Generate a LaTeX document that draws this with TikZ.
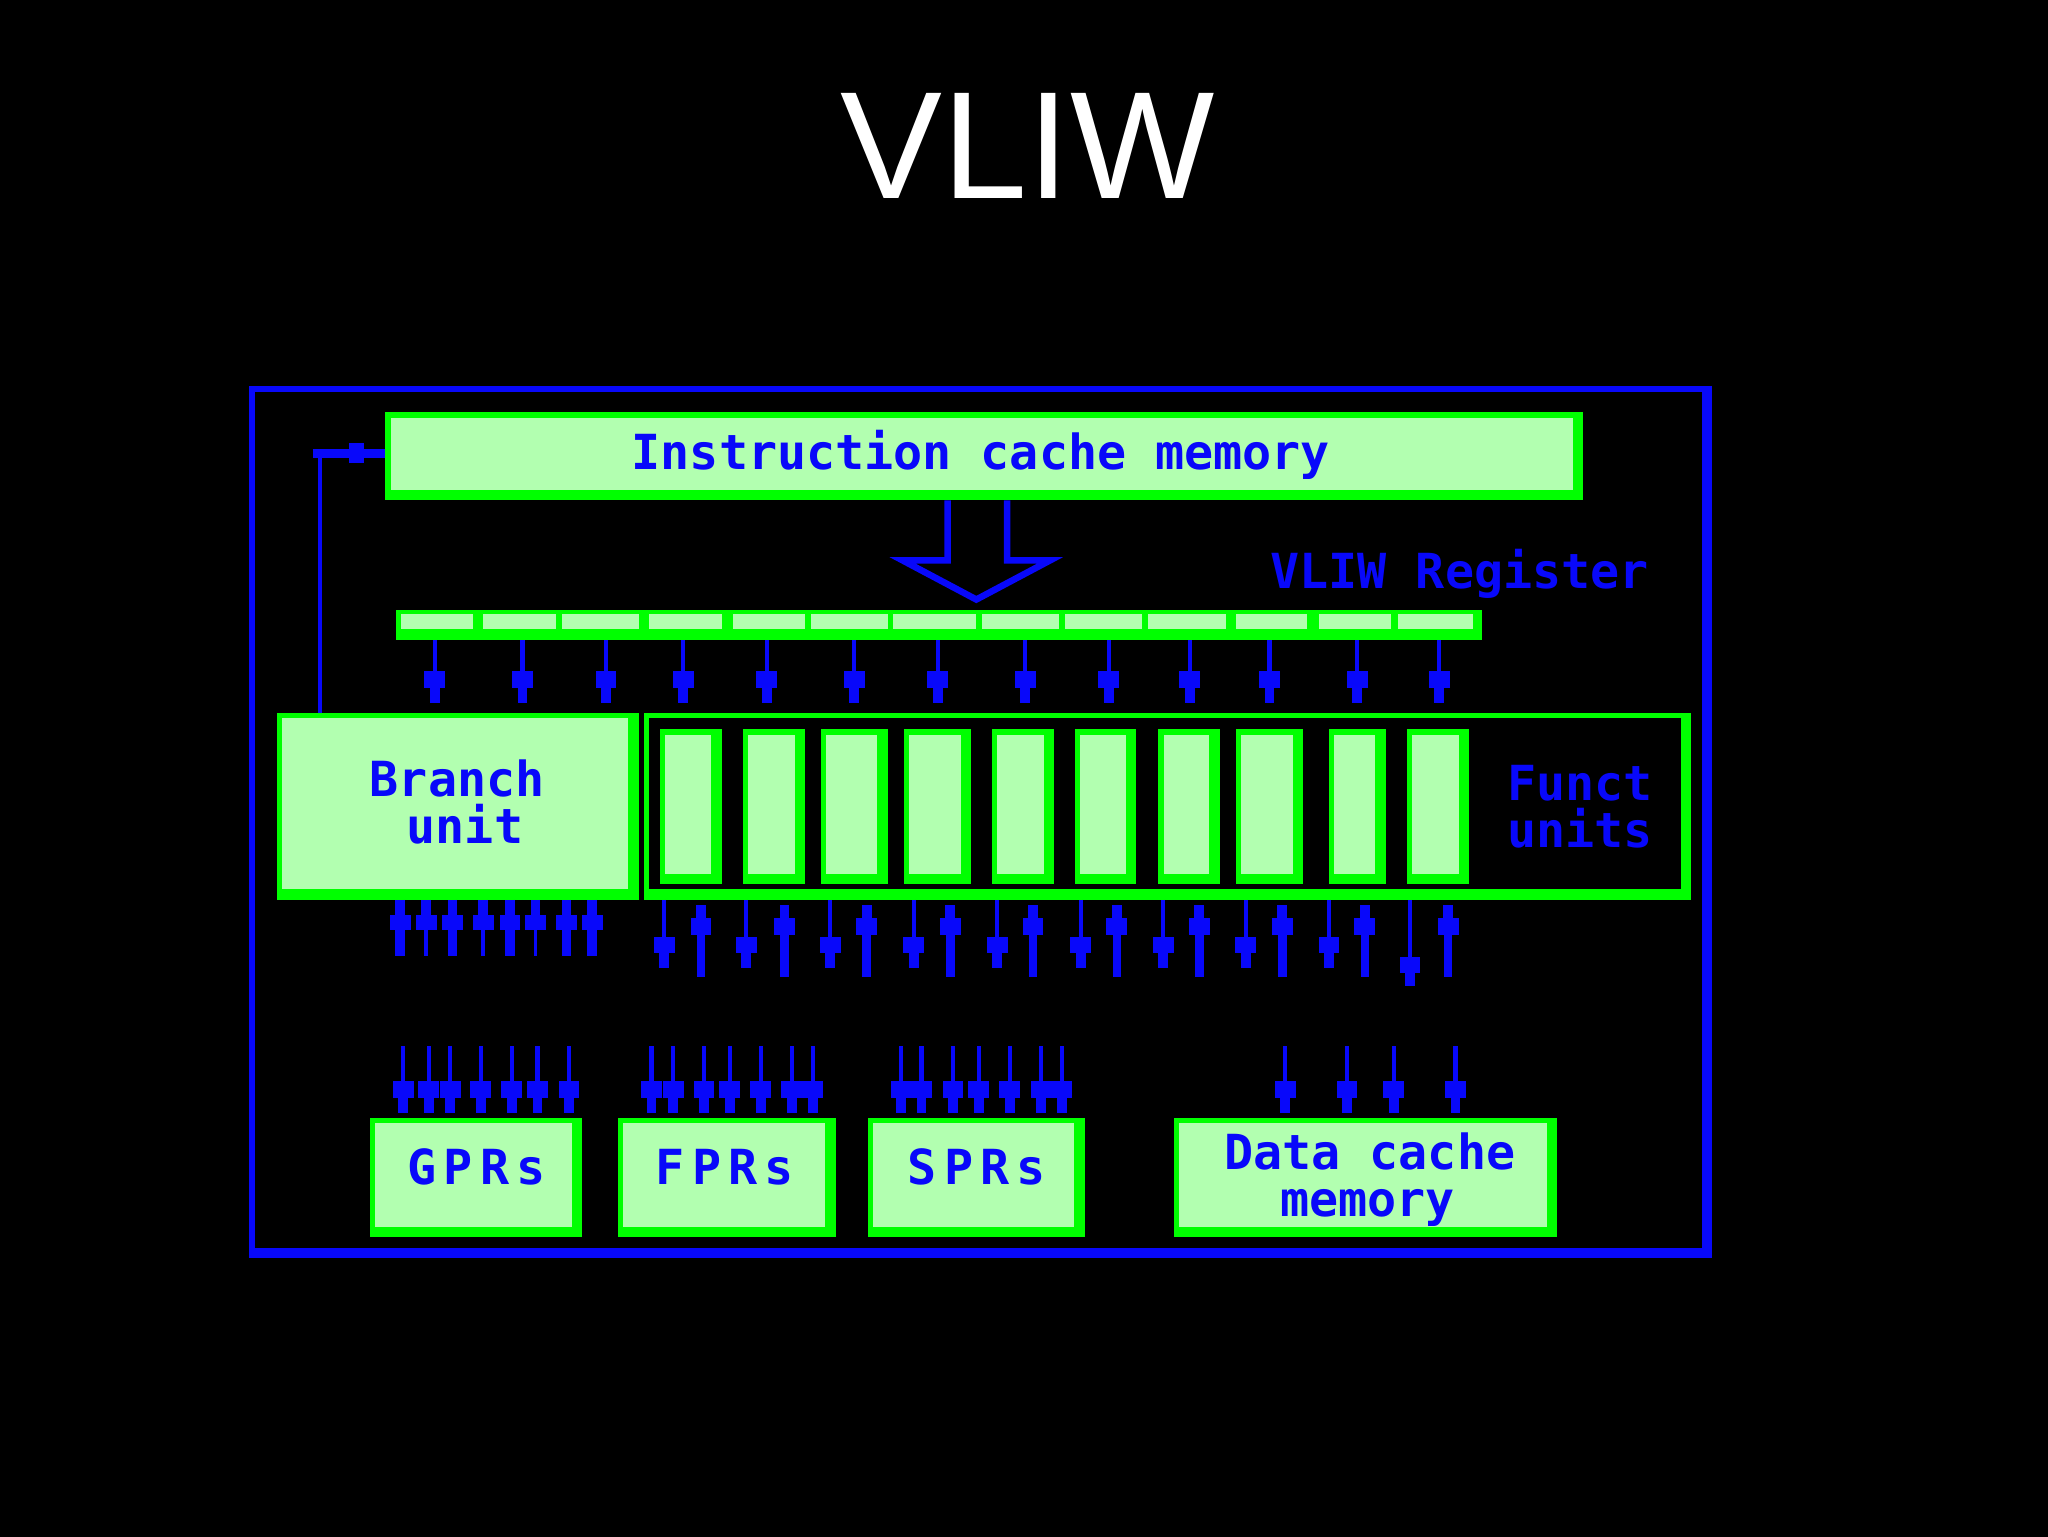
\documentclass[tikz,border=0pt]{standalone}
\usepackage{fontspec}
\newfontfamily\pix{DejaVu Sans Mono}
\newfontfamily\pixw{DejaVu Sans Mono}[LetterSpace=15]
\newfontfamily\titlefont{Liberation Sans}
\definecolor{bl}{RGB}{8,8,250}
\definecolor{gr}{RGB}{0,255,0}
\definecolor{lg}{RGB}{178,255,176}
\tikzset{
  boxnode/.style={fill=gr, inner sep=0pt, outer sep=0pt, anchor=north west, draw=none},
  txt/.style={text=bl, font=\pix\bfseries\fontsize{37}{40}\selectfont, inner sep=0pt, anchor=base},
  txtw/.style={text=bl, font=\pixw\bfseries\fontsize{37}{40}\selectfont, inner sep=0pt, anchor=base},
  thinw/.style={draw=bl, line width=3.2pt},
  thickw/.style={draw=bl, line width=7.5pt},
  plugfill/.style={fill=bl}
}
\newcommand\gbox[5]{%
  \node[boxnode, minimum width={(#4)-(#2)}, minimum height={(#5)-(#3)}] (#1) at (#2,#3) {};
  \fill[lg] ([shift={(4,4)}]#1.north west) rectangle ([shift={(-8,-8)}]#1.south east);}
\begin{document}
\begin{tikzpicture}[x=1pt,y=-1pt]
\useasboundingbox (0,0) rectangle (1568,1176);
\fill[black] (-10,-10) rectangle (1578,1186);

% title
\node[font=\titlefont\fontsize{117}{117}\selectfont, text=white, anchor=base, inner sep=0pt] (title) at (786.7,151.8) {VLIW};

% outer frame
\node[fill=bl, inner sep=0pt, outer sep=0pt, anchor=north west, minimum width=1120, minimum height=668] (frame) at (191,295.5) {};
\fill[black] ([shift={(4.5,4.5)}]frame.north west) rectangle ([shift={(-8,-8.4)}]frame.south east);

% instruction cache
\gbox{icache}{295}{315.7}{1212}{383}
\node[txt] (icachetxt) at (751,359.3) {Instruction cache memory};

% VLIW register
\node[boxnode, minimum width=832, minimum height=23.3] (reg) at (303,466.7) {};
\foreach \a/\b in {307/362,370/426,430/489,497/553,561/616,621/680,684/747,752/811,815/874,879/939,946/1001,1010/1065,1070/1128}
  \fill[lg] (\a,470) rectangle (\b,481.7);
\node[txt] (regtxt) at (1117.5,450.4) {VLIW Register};

% big arrow from instruction cache to register
\draw[bl, line width=5pt, line join=miter] (725.5,0 |- icache.south) -- (725.5,429) -- (691,429) -- (747.5,459) -- (804,429) -- (771,429) -- (771,0 |- icache.south);

% branch unit
\gbox{branch}{212}{546}{489}{689}
\node[txt] (branchtxt1) at (350,610) {Branch};
\node[txt] (branchtxt2) at (356,645.6) {unit};

% feedback from branch unit to instruction cache
\draw[bl, line width=3pt] (244.7,0 |- branch.north) -- (244.7,347);
\draw[bl, line width=7pt] (239.4,347) -- (0,347 -| icache.west);
\fill[bl] (267,339) rectangle (279,354.6);

% functional units
\node[boxnode, minimum width=802, minimum height=143] (fu) at (493,546) {};
\fill[black] ([shift={(4,4)}]fu.north west) rectangle ([shift={(-8,-8)}]fu.south east);
\foreach \a/\b [count=\i] in {505.3/552.6,568.6/616.3,628.7/679.5,692/743.6,759.6/807,823/870,886.8/934,946.3/997.8,1017.7/1061,1077/1124.7}
  {\gbox{fu\i}{\a}{558.4}{\b}{677}}
\node[txt, anchor=base west] (futxt1) at (1154,612.5) {Funct};
\node[txt, anchor=base west] (futxt2) at (1154,649) {units};

% register -> functional units
\foreach \x in {333,400,464,523,587,654,718,785,849,911,972,1039,1102} {
  \draw[thinw] (\x,0 |- reg.south) -- (\x,514);
  \fill[plugfill] (\x-8,514) rectangle (\x+8,527);
  \draw[thickw] (\x,527) -- (\x,538);
}

% branch unit inputs
\foreach \x/\w in {306.4/7.5,326.4/3,346.4/7.5,370/3,390.5/7.5,410/3,433.7/7.5,453.3/7.5} {
  \draw[thickw] (\x,0 |- branch.south) -- (\x,700.5);
  \fill[plugfill] (\x-8,700.5) rectangle (\x+8,712);
  \draw[bl, line width=\w pt] (\x,712) -- (\x,732);
}

% functional unit outputs (down)
\foreach \x in {508.6,571.4,635.5,699.6,763.6,827.4,890.6,953.7,1017.5} {
  \draw[thinw] (\x,0 |- fu.south) -- (\x,717);
  \fill[plugfill] (\x-8,717) rectangle (\x+8,730);
  \draw[thickw] (\x,730) -- (\x,741);
}
\draw[thinw] (1079.5,0 |- fu.south) -- (1079.5,732.4);
\fill[plugfill] (1071.5,732.4) rectangle (1087.5,745);
\draw[thickw] (1079.5,745) -- (1079.5,755);

% functional unit inputs (up)
\foreach \x in {536.7,600.7,663.5,727.6,790.9,855,918.2,981.8,1045,1108.8} {
  \draw[thickw] (\x,693) -- (\x,703);
  \fill[plugfill] (\x-8,703) rectangle (\x+8,716);
  \draw[bl, line width=6.5pt] (\x,716) -- (\x,747.7);
}

% register files and data cache
\gbox{gpr}{283}{855.7}{445.6}{947.3}
\gbox{fpr}{473}{855.7}{640}{947.3}
\gbox{spr}{664.5}{855.7}{830.6}{947.3}
\gbox{dc}{898.5}{855.7}{1192.4}{947.3}
\node[txtw] (gprtxt) at (365,907) {GPRs};
\node[txtw] (fprtxt) at (555,907) {FPRs};
\node[txtw] (sprtxt) at (748,907) {SPRs};
\node[txt] (dctxt1) at (1048.7,895.7) {Data cache};
\node[txt] (dctxt2) at (1047,931.5) {memory};

% inputs to register files / data cache
\foreach \x/\b in {308.6/gpr,328.2/gpr,344.7/gpr,368/gpr,391.8/gpr,411.5/gpr,435.6/gpr,
                   498.8/fpr,515.3/fpr,539/fpr,558.7/fpr,582.5/fpr,606.3/fpr,622.3/fpr,
                   690/spr,705.5/spr,729.6/spr,749.4/spr,773.2/spr,797/spr,813/spr,
                   984/dc,1031.3/dc,1067/dc,1114.4/dc} {
  \draw[thinw] (\x,801) -- (\x,828);
  \fill[plugfill] (\x-8,828) rectangle (\x+8,840.5);
  \draw[thickw] (\x,840.5) -- (\x,852);
}
\end{tikzpicture}
\end{document}
